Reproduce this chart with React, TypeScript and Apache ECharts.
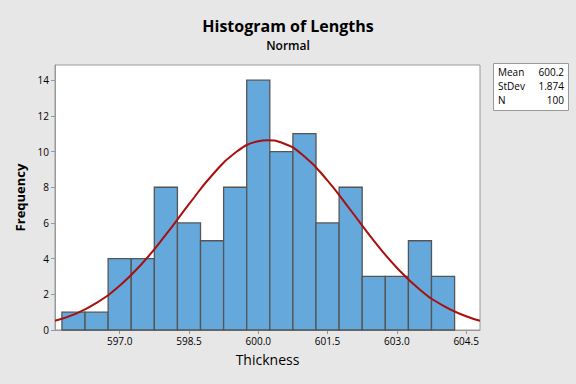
import React, { useEffect, useRef } from "react";
import * as echarts from "echarts";

const binCenters = [596.0, 596.5, 597.0, 597.5, 598.0, 598.5, 599.0, 599.5, 600.0, 600.5, 601.0, 601.5, 602.0, 602.5, 603.0, 603.5, 604.0];
const binCounts = [1, 1, 4, 4, 8, 6, 5, 8, 14, 10, 11, 6, 8, 3, 3, 5, 3];
const binWidth = 0.5;
const xTicks = [597.0, 598.5, 600.0, 601.5, 603.0, 604.5];
const yTicks = [0, 2, 4, 6, 8, 10, 12, 14];
const curveX = [595.6, 596.0, 596.5, 597.0, 597.5, 598.0, 598.5, 599.0, 599.5, 600.0, 600.2, 600.5, 601.0, 601.5, 602.0, 602.5, 603.0, 603.5, 604.0, 604.5, 604.8];
const curveY = [0.52, 0.86, 1.52, 2.48, 3.77, 5.34, 7.05, 8.67, 9.93, 10.58, 10.64, 10.51, 9.72, 8.37, 6.71, 5.01, 3.49, 2.26, 1.36, 0.77, 0.52];
const statLabels = ["Mean", "StDev", "N"];
const statValues = ["600.2", "1.874", "100"];

const FONT = "'Open Sans', 'Noto Sans', sans-serif";

export default function App() {
  const ref = useRef<HTMLDivElement>(null);
  useEffect(() => {
    if (!ref.current) return;
    const chart = echarts.init(ref.current, undefined, { renderer: "svg" });
    const barData = binCenters.map((c, i) => [c, binCounts[i]]);
    const lineData = curveX.map((x, i) => [x, curveY[i]]);
    const statTexts: any[] = [];
    statLabels.forEach((l, i) => {
      statTexts.push({
        type: "text",
        left: 498,
        top: 67 + i * 14,
        style: { text: l, font: `10px ${FONT}`, fill: "#000" },
      });
      statTexts.push({
        type: "text",
        right: 12,
        top: 67 + i * 14,
        style: { text: statValues[i], font: `10px ${FONT}`, fill: "#000", align: "right" },
      });
    });
    chart.setOption({
      animation: false,
      backgroundColor: "#e7e7e7",
      grid: {
        left: 55,
        top: 65,
        right: 96,
        bottom: 54,
        show: true,
        backgroundColor: "#ffffff",
        borderColor: "#999",
        borderWidth: 1,
      },
      xAxis: {
        type: "value",
        min: 595.6,
        max: 604.8,
        name: "Thickness",
        nameLocation: "middle",
        nameGap: 22,
        nameTextStyle: { fontFamily: FONT, fontSize: 14, color: "#000" },
        axisLine: { show: true, lineStyle: { color: "#999" } },
        axisTick: { show: true, customValues: xTicks, length: 4, lineStyle: { color: "#999" } },
        axisLabel: {
          customValues: xTicks,
          formatter: (v: number) => v.toFixed(1),
          fontFamily: FONT,
          fontSize: 10,
          color: "#000",
          margin: 6,
        },
        splitLine: { show: false },
      },
      yAxis: {
        type: "value",
        min: 0,
        max: 14.85,
        name: "Frequency",
        nameLocation: "middle",
        nameGap: 27,
        nameTextStyle: { fontFamily: FONT, fontSize: 13, fontWeight: "bold", color: "#000" },
        axisLine: { show: true, lineStyle: { color: "#999" } },
        axisTick: { show: true, customValues: yTicks, length: 4, lineStyle: { color: "#999" } },
        axisLabel: {
          customValues: yTicks,
          fontFamily: FONT,
          fontSize: 10,
          color: "#000",
          margin: 6,
        },
        splitLine: { show: false },
      },
      series: [
        {
          type: "custom",
          data: barData,
          renderItem: (params: any, api: any) => {
            const c = api.value(0);
            const v = api.value(1);
            const p0 = api.coord([c - binWidth / 2, 0]);
            const p1 = api.coord([c + binWidth / 2, v]);
            return {
              type: "rect",
              shape: { x: p0[0], y: p1[1], width: p1[0] - p0[0], height: p0[1] - p1[1] },
              style: { fill: "#65a8dc", stroke: "#555555", lineWidth: 1.3 },
            };
          },
          encode: { x: 0, y: 1 },
          z: 2,
        },
        {
          type: "line",
          data: lineData,
          smooth: true,
          showSymbol: false,
          lineStyle: { color: "#a8100f", width: 2 },
          z: 3,
        },
      ],
      graphic: [
        {
          type: "text",
          x: 288,
          y: 26,
          style: {
            text: "Histogram of Lengths",
            font: `bold 16px ${FONT}`,
            fill: "#000",
            align: "center",
            verticalAlign: "middle",
          },
        },
        {
          type: "text",
          x: 288,
          y: 45,
          style: {
            text: "Normal",
            font: `600 12px ${FONT}`,
            fill: "#000",
            align: "center",
            verticalAlign: "middle",
          },
        },
        {
          type: "rect",
          left: 493,
          top: 63,
          shape: { width: 75, height: 47 },
          style: { fill: "#fff", stroke: "#999", lineWidth: 1 },
        },
        ...statTexts,
      ],
    });
    return () => chart.dispose();
  }, []);
  return <div ref={ref} style={{ position: "fixed", left: 0, top: 0, width: 576, height: 384 }} />;
}
